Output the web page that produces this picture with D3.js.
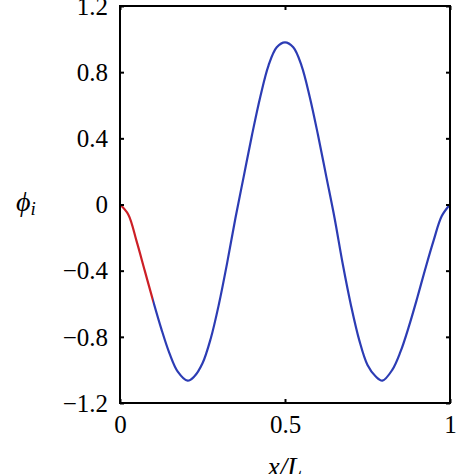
<!doctype html>
<html lang="en">
<head>
<meta charset="utf-8">
<title>Mode shape</title>
<script src="https://cdn.jsdelivr.net/npm/d3@7/dist/d3.min.js"></script>
<style>
  html, body { margin: 0; padding: 0; background: #fff; }
  svg { display: block; }
  .tick text { font-family: "Liberation Serif", "DejaVu Serif", serif; font-size: 25px; fill: #000; }
</style>
</head>
<body>
<script>
// positions along the beam (x/L) and mode amplitude
var xPos = [0, 0.025, 0.05, 0.075, 0.1, 0.125, 0.15, 0.175, 0.205, 0.225, 0.25, 0.275, 0.3, 0.325, 0.35, 0.375, 0.4, 0.425, 0.45, 0.475, 0.5,
            0.525, 0.55, 0.575, 0.6, 0.625, 0.65, 0.675, 0.7, 0.725, 0.75, 0.775, 0.795, 0.825, 0.85, 0.875, 0.9, 0.925, 0.95, 0.975, 1];
var phi  = [0, -0.06, -0.22, -0.40, -0.58, -0.75, -0.90, -1.01, -1.065, -1.04, -0.96, -0.81, -0.60, -0.35, -0.08, 0.17, 0.42, 0.65, 0.84, 0.95, 0.98,
            0.95, 0.84, 0.65, 0.42, 0.17, -0.08, -0.36, -0.61, -0.82, -0.97, -1.04, -1.065, -1.0, -0.89, -0.74, -0.57, -0.39, -0.22, -0.07, 0];
// red part of the curve ends here
var redEnd = 0.1;

var xTicks = [0, 0.5, 1];
var xTickLabels = ["0", "0.5", "1"];
var yTicks = [-1.2, -0.8, -0.4, 0, 0.4, 0.8, 1.2];
var yTickLabels = ["\u22121.2", "\u22120.8", "\u22120.4", "0", "0.4", "0.8", "1.2"];

var width = 474, height = 474;
var margin = {left: 120, right: 24, top: 6, bottom: 71};

var svg = d3.select("body").append("svg")
    .attr("width", width)
    .attr("height", height);

var x = d3.scaleLinear().domain([0, 1]).range([margin.left, width - margin.right]);
var y = d3.scaleLinear().domain([-1.2, 1.2]).range([height - margin.bottom, margin.top]);

var pts = xPos.map(function(d, i) { return {x: d, y: phi[i]}; });

var line = d3.line()
    .x(function(d) { return x(d.x); })
    .y(function(d) { return y(d.y); })
    .curve(d3.curveCatmullRom.alpha(0.5));

// one curve, split in two colours at redEnd with clip paths
var defs = svg.append("defs");
defs.append("clipPath").attr("id", "redClip")
  .append("rect")
    .attr("x", 0).attr("y", 0)
    .attr("width", x(redEnd)).attr("height", height);
defs.append("clipPath").attr("id", "blueClip")
  .append("rect")
    .attr("x", x(redEnd)).attr("y", 0)
    .attr("width", width - x(redEnd)).attr("height", height);

svg.append("path")
    .attr("d", line(pts))
    .attr("clip-path", "url(#blueClip)")
    .attr("fill", "none")
    .attr("stroke", "#2c3cb4")
    .attr("stroke-width", 2.2);

svg.append("path")
    .attr("d", line(pts))
    .attr("clip-path", "url(#redClip)")
    .attr("fill", "none")
    .attr("stroke", "#cc1f26")
    .attr("stroke-width", 2.2);

// axes, ticks pointing inward on all four sides
function styleAxis(g) {
  g.select(".domain").remove();
  g.selectAll(".tick line").attr("stroke", "#000").attr("stroke-width", 2);
}

var yAxis = d3.axisLeft(y)
    .tickValues(yTicks)
    .tickFormat(function(d, i) { return yTickLabels[i]; })
    .tickSizeInner(-4).tickSizeOuter(0).tickPadding(12);

svg.append("g")
    .attr("transform", "translate(" + margin.left + ",0)")
    .call(yAxis)
    .call(styleAxis)
    .selectAll("text").attr("dy", "0.33em");

svg.append("g")
    .attr("transform", "translate(" + (width - margin.right) + ",0)")
    .call(d3.axisRight(y).tickValues(yTicks).tickFormat("").tickSizeInner(-4).tickSizeOuter(0))
    .call(styleAxis);

var xAxis = d3.axisBottom(x)
    .tickValues(xTicks)
    .tickFormat(function(d, i) { return xTickLabels[i]; })
    .tickSizeInner(-4).tickSizeOuter(0);

svg.append("g")
    .attr("transform", "translate(0," + (height - margin.bottom) + ")")
    .call(xAxis)
    .call(styleAxis)
    .selectAll("text").attr("y", 30).attr("dy", 0);

svg.append("g")
    .attr("transform", "translate(0," + margin.top + ")")
    .call(d3.axisTop(x).tickValues(xTicks).tickFormat("").tickSizeInner(-4).tickSizeOuter(0))
    .call(styleAxis);

svg.append("rect")
    .attr("x", margin.left)
    .attr("y", margin.top)
    .attr("width", width - margin.left - margin.right)
    .attr("height", height - margin.top - margin.bottom)
    .attr("fill", "none")
    .attr("stroke", "#000")
    .attr("stroke-width", 2);

// axis titles
var yTitle = svg.append("text")
    .attr("x", 16)
    .attr("y", 211)
    .attr("font-family", "Liberation Serif, DejaVu Serif, serif")
    .attr("font-size", 28)
    .attr("font-style", "italic");
yTitle.append("tspan").text("\u03d5");
yTitle.append("tspan").attr("font-size", 19).attr("dy", 4).text("i");

svg.append("text")
    .attr("x", x(0.5))
    .attr("y", 476)
    .attr("text-anchor", "middle")
    .attr("font-family", "Liberation Serif, DejaVu Serif, serif")
    .attr("font-size", 27)
    .attr("font-style", "italic")
    .text("x/L");
</script>
</body>
</html>
